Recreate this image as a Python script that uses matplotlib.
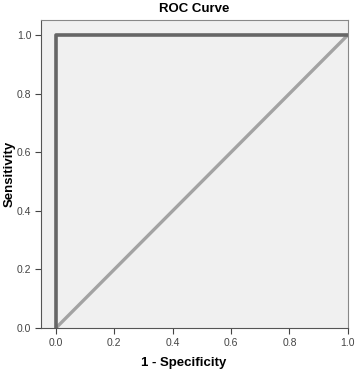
import matplotlib
matplotlib.use('Agg')
import matplotlib.pyplot as plt

# ROC data
fpr = [0.0, 0.0, 1.0]
tpr = [0.0, 1.0, 1.0]
ref_x = [0.0, 1.0]
ref_y = [0.0, 1.0]
ticks = [0.0, 0.2, 0.4, 0.6, 0.8, 1.0]
tick_labels = ['0.0', '0.2', '0.4', '0.6', '0.8', '1.0']

plt.rcParams['font.family'] = ['Liberation Sans', 'DejaVu Sans']

fig = plt.figure(figsize=(3.55, 3.69), dpi=100)
ax = fig.add_axes([0.1155, 0.111, 0.8645, 0.8348])
ax.set_facecolor('#f0f0f0')

ax.plot(ref_x, ref_y, color='#a3a3a3', lw=2.4, solid_capstyle='butt')
ax.plot(fpr, tpr, color='#666666', lw=2.6, solid_capstyle='butt')

ax.set_xlim(-0.051, 1.0)
ax.set_ylim(0.0, 1.051)
ax.set_xticks(ticks)
ax.set_xticklabels(tick_labels)
ax.set_yticks(ticks)
ax.set_yticklabels(tick_labels)
ax.tick_params(direction='out', length=4, width=0.8, colors='#444444',
               labelsize=7.5, labelcolor='#444444', pad=3)
for s in ax.spines.values():
    s.set_color('#888888')
    s.set_linewidth(0.8)
ax.spines['left'].set_color('#555555')
ax.spines['bottom'].set_color('#555555')

ax.set_xlabel('1 - Specificity', fontsize=9.5, fontweight='bold')
ax.set_ylabel('Sensitivity', fontsize=9.5, fontweight='bold')
ax.xaxis.set_label_coords(0.465, -0.094)
ax.yaxis.set_label_coords(-0.083, 0.5)
ax.set_title('ROC Curve', fontsize=9.5, fontweight='bold', pad=6)

fig.savefig('out.png', dpi=100)
